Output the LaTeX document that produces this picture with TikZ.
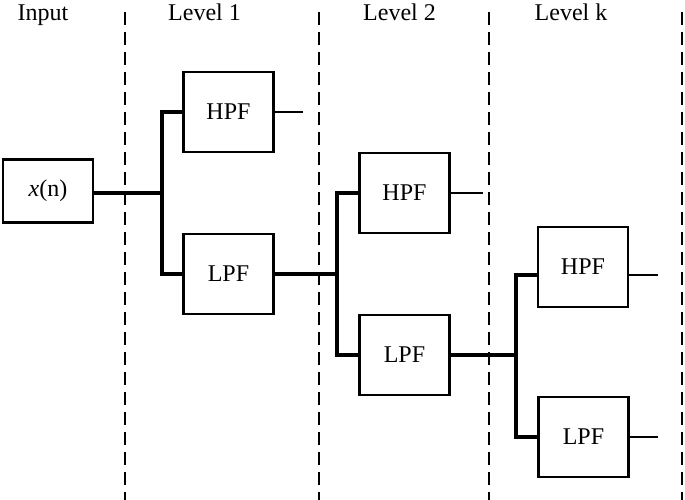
\documentclass[tikz,border=0pt]{standalone}
\usepackage{fontspec}
\setmainfont{Liberation Serif}
\begin{document}
\begin{tikzpicture}[x=1pt,y=-1pt,
  filt/.style={draw,line width=2.3pt,minimum width=90pt,minimum height=80pt,inner sep=0pt,font=\fontsize{24}{24}\selectfont},
  head/.style={anchor=base,inner sep=0pt,font=\fontsize{24}{24}\selectfont},
  wire/.style={line width=3.2pt},
  stub/.style={line width=2.3pt},
  sep/.style={line width=2.2pt,dash pattern=on 13pt off 7pt}]
\useasboundingbox (0,0) rectangle (685,500);
% headings
\node[head] (hin) at (43,21) {Input};
\node[head] (hl1) at (204.5,21) {Level 1};
\node[head] (hl2) at (399.5,21) {Level 2};
\node[head] (hlk) at (571,21) {Level k};
% separators
\foreach \xx in {125,319,489,682} \draw[sep] (\xx,12) -- (\xx,500);
% boxes
\node[filt,minimum height=63pt] (xn) at (48,191) {\textit{x}(n)};
\node[filt] (hpf1) at (228.5,112) {HPF};
\node[filt] (lpf1) at (228.5,274) {LPF};
\node[filt] (hpf2) at (404.5,193) {HPF};
\node[filt] (lpf2) at (404.5,355) {LPF};
\node[filt] (hpf3) at (583,267) {HPF};
\node[filt] (lpf3) at (583.5,437) {LPF};
% branch points
\coordinate (b1) at (162,193);
\coordinate (b2) at (337,274);
\coordinate (b3) at (516,355);
\coordinate (h3in) at (516,275);
% level 1
\draw[wire] (b1 -| xn.east) -- (b1);
\draw[wire] (hpf1.west) -- (hpf1.west -| b1) -- (lpf1.west -| b1) -- (lpf1.west);
% level 2
\draw[wire] (lpf1.east) -- (b2);
\draw[wire] (hpf2.west) -- (hpf2.west -| b2) -- (lpf2.west -| b2) -- (lpf2.west);
% level k
\draw[wire] (lpf2.east) -- (b3);
\draw[wire] (h3in -| hpf3.west) -- (h3in) -- (lpf3.west -| h3in) -- (lpf3.west);
% output stubs
\coordinate (o1) at (303,112);
\coordinate (o2) at (483,193);
\coordinate (o3) at (658,275);
\coordinate (o4) at (658,437);
\draw[stub] (hpf1.east) -- (o1);
\draw[stub] (hpf2.east) -- (o2);
\draw[stub] (o3 -| hpf3.east) -- (o3);
\draw[stub] (lpf3.east) -- (o4);
\end{tikzpicture}
\end{document}
